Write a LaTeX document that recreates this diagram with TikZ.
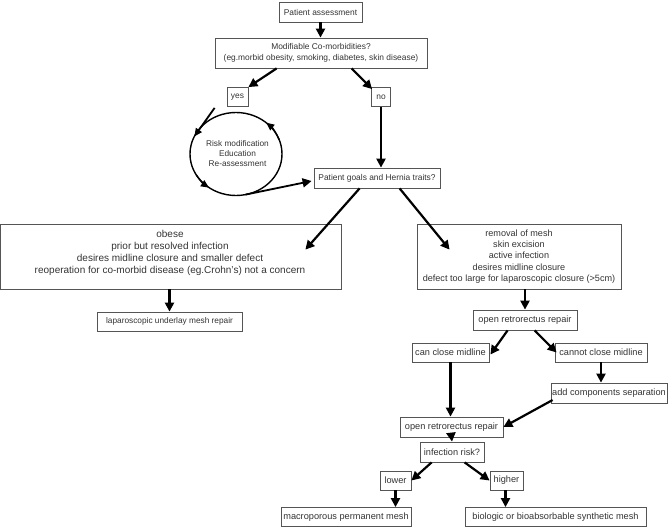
\documentclass[tikz,border=0pt]{standalone}
\usepackage{fontspec}
\setmainfont{Liberation Sans}
\usetikzlibrary{arrows.meta,calc,shapes.geometric}
\definecolor{txt}{HTML}{333333}
\definecolor{bord}{HTML}{555555}
\begin{document}
\begin{tikzpicture}[x=1pt,y=-1pt,
  box/.style={draw=bord, line width=0.8pt, inner sep=0pt, text=txt,
    font=\fontsize{8.4}{11}\selectfont, align=center},
  big/.style={font=\fontsize{9.2}{11}\selectfont},
  plain/.style={inner sep=0pt, text=txt, align=center},
  arr/.style={draw=black, line width=2.2pt, -{Triangle[length=9pt,width=9pt]}},
  thinarr/.style={draw=black, line width=1.4pt, -{Triangle[length=8pt,width=7pt]}},
]
\useasboundingbox (0,0) rectangle (672,527);

\node[box, minimum width=83pt, minimum height=20pt] (pa) at (320.5,12) {Patient assessment};
\node[box, minimum width=212pt, minimum height=30pt] (mod) at (321,53)
  {Modifiable Co-morbidities?\\(eg.morbid obesity, smoking, diabetes, skin disease)};
\node[box, minimum width=21pt, minimum height=19pt] (yes) at (237.5,97) {yes};
\node[box, minimum width=19pt, minimum height=19pt] (no) at (381,97) {no};
\node[ellipse, draw=black, line width=1.4pt, minimum width=92pt, minimum height=83pt, inner sep=0pt, text=txt,
  font=\fontsize{8.3}{10}\selectfont, align=center] (loop) at (236,154) {};
\node[plain, font=\fontsize{8.3}{10}\selectfont] (looptext) at (237.5,153.3) {Risk modification\\Education\\Re-assessment};
\node[box, minimum width=126pt, minimum height=20pt] (pg) at (377,178) {Patient goals and Hernia traits?};

\node[box, minimum width=340.5pt, minimum height=65pt] (lbox) at (170.75,256.5) {};
\node[plain, font=\fontsize{10}{12}\selectfont] (ltext) at (170,252.5) {obese\\prior but resolved infection\\desires midline closure and smaller defect\\reoperation for co-morbid disease (eg.Crohn’s) not a concern};
\node[box, minimum width=145pt, minimum height=19pt, font=\fontsize{8.3}{10}\selectfont] (lap) at (169.5,321.5) {laparoscopic underlay mesh repair};

\node[box, minimum width=204pt, minimum height=65pt, font=\fontsize{9.1}{11.3}\selectfont] (rbox) at (519,256.5)
  {removal of mesh\\skin excision\\active infection\\desires midline closure\\defect too large for laparoscopic closure (>5cm)};
\node[box, big, minimum width=104pt, minimum height=20pt] (o1) at (525,320) {open retrorectus repair};
\node[box, big, minimum width=77pt, minimum height=19pt] (can) at (450.5,352.5) {can close midline};
\node[box, big, minimum width=92pt, minimum height=19pt] (cannot) at (601,352.5) {cannot close midline};
\node[box, big, minimum width=116pt, minimum height=20pt] (add) at (609,393) {add components separation};
\node[box, big, minimum width=103pt, minimum height=20pt] (o2) at (451.5,427) {open retrorectus repair};
\node[box, big, minimum width=64pt, minimum height=20pt] (inf) at (452,452) {infection risk?};
\node[box, big, minimum width=31pt, minimum height=19pt] (lower) at (395.5,480.5) {lower};
\node[box, big, minimum width=33pt, minimum height=19pt] (higher) at (506.5,480.5) {higher};
\node[box, big, minimum width=130pt, minimum height=19pt] (mac) at (346,517) {macroporous permanent mesh};
\node[box, big, minimum width=181pt, minimum height=19pt] (bio) at (555.5,517) {biologic or bioabsorbable synthetic mesh};

% arrows
\draw[arr] (pa.south) -- (pa.south |- mod.north);
\draw[arr] ($(mod.south west)+(62,0)$) -- (yes.north east);
\draw[arr] ($(mod.south west)+(137,0)$) -- ($(no.north west)+(1,2)$);
\draw[arr] (no.south) -- (no.south |- pg.north);
\draw[thinarr, line width=1.8pt] ($(yes.south west)+(-12,1)$) -- ($(loop.center)+({46*cos(205)},{41.5*sin(205)})$);
\draw[thinarr] ($(loop.center)+({46*cos(150)},{41.5*sin(150)})$) arc[start angle=150, end angle=126, x radius=46, y radius=41.5];
\draw[thinarr] ($(loop.center)+({46*cos(340)},{41.5*sin(340)})$) arc[start angle=340, end angle=311, x radius=46, y radius=41.5];
\draw[arr, line width=1.8pt] ($(loop.center)+({46*cos(78)},{41.5*sin(78)})$) -- ($(pg.west)+(-2,3)$);
\draw[arr] ($(pg.south west)+(46,0)$) -- ($(lbox.north east)+(-36,26)$);
\draw[arr] ($(pg.south west)+(86,0)$) -- ($(rbox.north west)+(33,26)$);
\draw[arr] (lap.north |- lbox.south) -- (lap.north);
\draw[arr] (o1.north |- rbox.south) -- (o1.north);
\draw[arr] ($(o1.south west)+(35,0)$) -- ($(can.east)+(1,2)$);
\draw[arr] ($(o1.south west)+(62,0)$) -- ($(cannot.west)+(2,0)$);
\draw[arr] (can.south) -- (can.south |- o2.north);
\draw[arr] (cannot.south) -- (cannot.south |- add.north);
\draw[arr] ($(add.west)+(2,7)$) -- (o2.east);
\draw[arr] (o2.south) -- (inf.north);
\draw[arr] ($(inf.south west)+(12,0)$) -- (lower.east);
\draw[arr] ($(inf.south west)+(45,0)$) -- (higher.west);
\draw[arr] (lower.south) -- (lower.south |- mac.north);
\draw[arr] ($(higher.south)+(-1,0)$) -- ($(higher.south |- bio.north)+(-1,0)$);
\end{tikzpicture}
\end{document}
